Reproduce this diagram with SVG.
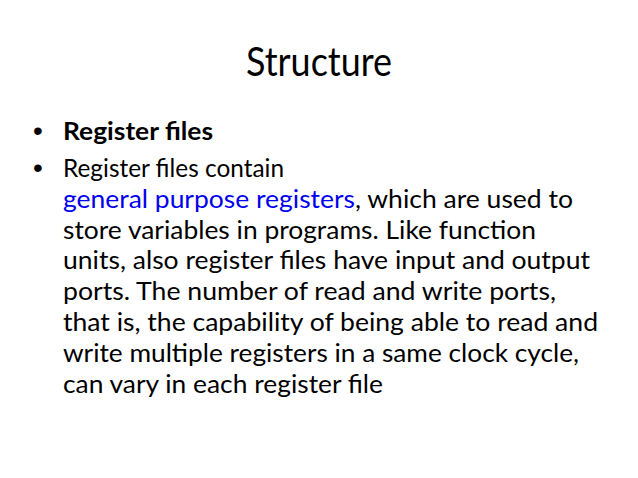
<svg xmlns="http://www.w3.org/2000/svg" width="638" height="478" viewBox="0 0 638 478">
<style>
.t{font-family:Lato,"Noto Sans","Liberation Sans",sans-serif;fill:#000}
.title{font-size:40px}
.b{font-size:24.5px}
.bold{font-weight:bold}
.link{fill:#0000ee}
.bul{font-family:"Liberation Sans",Arial,sans-serif;font-size:28px;fill:#000}
</style>
<rect width="638" height="478" fill="#fff"/>
<g id="title">
<text class="t title" x="246" y="75.5" textLength="146" lengthAdjust="spacingAndGlyphs">Structure</text>
</g>
<g id="bullet1">
<text class="bul" x="33" y="139.5">•</text>
<text class="t b bold" x="63" y="139.5" textLength="150" lengthAdjust="spacingAndGlyphs">Register files</text>
</g>
<g id="bullet2">
<text class="bul" x="33" y="177">•</text>
<text class="t b" x="63" y="177" textLength="221" lengthAdjust="spacingAndGlyphs">Register files contain</text>
<text class="t b link" x="63" y="207.8" textLength="292" lengthAdjust="spacingAndGlyphs">general purpose registers</text>
<text class="t b" x="355" y="207.8" textLength="218" lengthAdjust="spacingAndGlyphs">, which are used to</text>
<text class="t b" x="63" y="238.6" textLength="473" lengthAdjust="spacingAndGlyphs">store variables in programs. Like function</text>
<text class="t b" x="63" y="269.4" textLength="527" lengthAdjust="spacingAndGlyphs">units, also register files have input and output</text>
<text class="t b" x="63" y="300.2" textLength="493" lengthAdjust="spacingAndGlyphs">ports. The number of read and write ports,</text>
<text class="t b" x="63" y="331" textLength="535" lengthAdjust="spacingAndGlyphs">that is, the capability of being able to read and</text>
<text class="t b" x="63" y="361.8" textLength="516" lengthAdjust="spacingAndGlyphs">write multiple registers in a same clock cycle,</text>
<text class="t b" x="63" y="392.6" textLength="320" lengthAdjust="spacingAndGlyphs">can vary in each register file</text>
</g>
</svg>
